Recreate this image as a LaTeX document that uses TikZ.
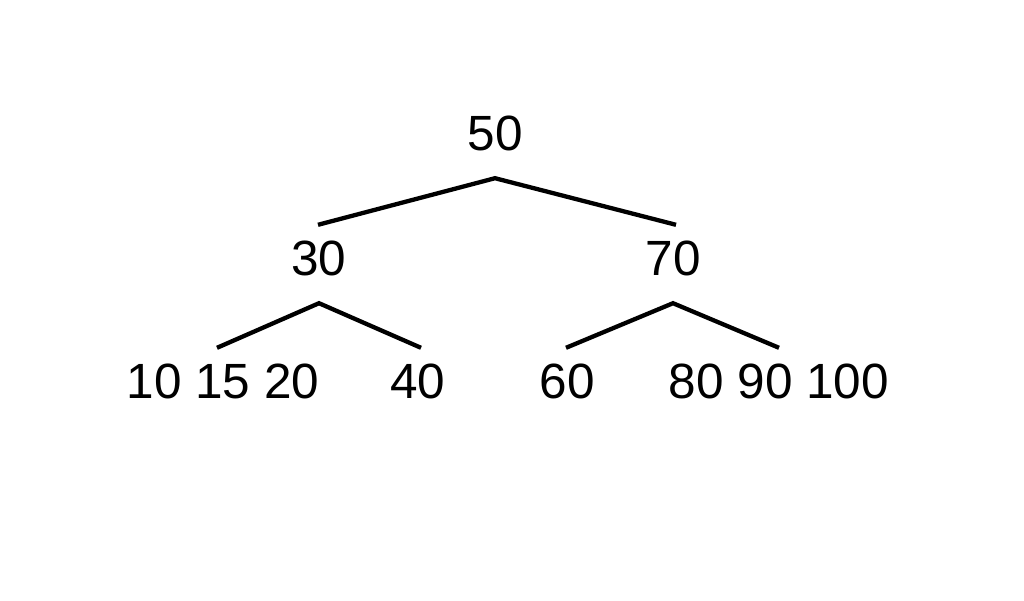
\documentclass[tikz,border=0pt]{standalone}
\usepackage{fontspec}
\setmainfont{Liberation Sans}
\begin{document}
\begin{tikzpicture}[x=1pt,y=-1pt,
  lbl/.style={inner sep=0pt, anchor=base, text height=50pt, text depth=28pt,
    font=\fontsize{49.5}{58}\selectfont},
  edge/.style={line width=4.3pt, black}]
\useasboundingbox (0,0) rectangle (1024,600);
\node[lbl] (n50) at (495,150) {50};
\node[lbl] (n30) at (319,275) {30};
\node[lbl] (n70) at (673,275) {70};
\node[lbl] (n101520) at (223,398) {10 15 20};
\node[lbl] (n40) at (418,398) {40};
\node[lbl] (n60) at (567,398) {60};
\node[lbl] (n8090100) at (779,398) {80 90 100};
\draw[edge] ([xshift=-1pt]n30.north) -- (n50.south) -- ([xshift=3pt]n70.north);
\draw[edge] ([xshift=-6pt]n101520.north) -- (n30.south) -- ([xshift=3pt]n40.north);
\draw[edge] ([xshift=-1pt]n60.north) -- (n70.south) -- (n8090100.north);
\end{tikzpicture}
\end{document}
